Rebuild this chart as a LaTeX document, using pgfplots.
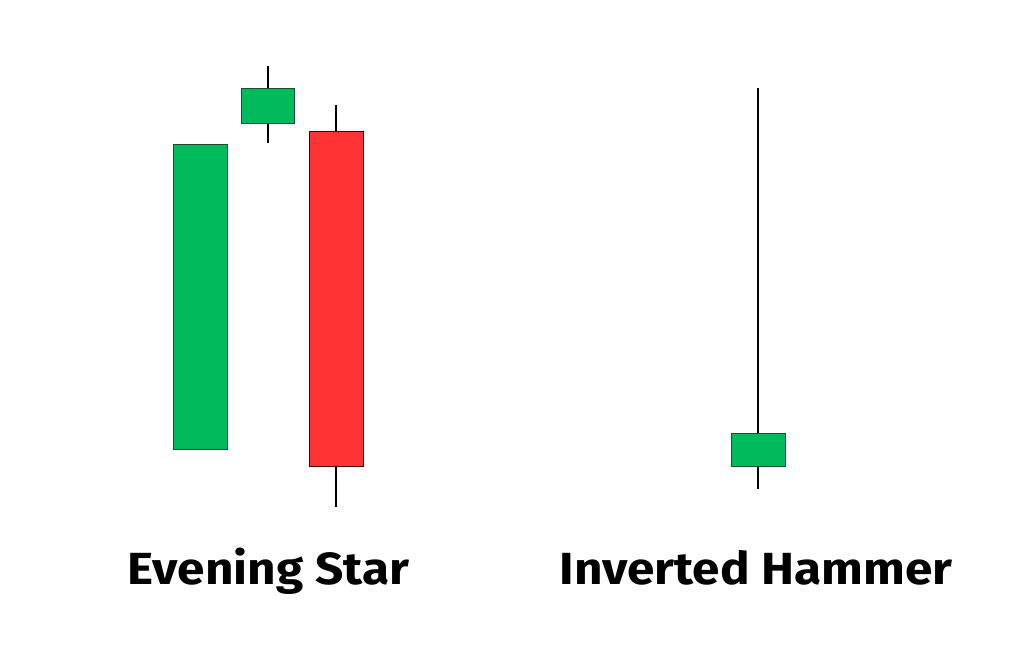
\documentclass[border=0pt]{standalone}
\usepackage{pgfplots}
\pgfplotsset{compat=1.18}
\usepackage{fontspec}
\setmainfont{Fira Sans}[FakeStretch=1.1]
\definecolor{cgreen}{HTML}{00BB5C}
\definecolor{cred}{HTML}{FF3333}
\definecolor{cedge}{HTML}{1E4D35}
\begin{document}
\begin{tikzpicture}
\begin{axis}[
  scale only axis, width=1024pt, height=662pt,
  xmin=0, xmax=1024, ymin=0, ymax=662,
  axis line style={draw=none}, ticks=none, clip=false,
]
% wicks (high-low)
\addplot[black, line width=2.3pt] coordinates {(267.9,596.0) (267.9,518.7)};
\addplot[black, line width=2.3pt] coordinates {(336.3,557.0) (336.3,155.3)};
\addplot[black, line width=2.3pt] coordinates {(758.3,574.3) (758.3,172.7)};
% bodies (open-close)
\addplot[fill=cgreen, draw=cedge, line width=0.9pt] coordinates {(173.5,212.7) (227.5,212.7) (227.5,518.0) (173.5,518.0)} -- cycle;
\addplot[fill=cgreen, draw=cedge, line width=0.9pt] coordinates {(241.0,538.7) (294.7,538.7) (294.7,574.0) (241.0,574.0)} -- cycle;
\addplot[fill=cred, draw=black!75!red, line width=0.9pt] coordinates {(309.0,196.0) (363.7,196.0) (363.7,530.3) (309.0,530.3)} -- cycle;
\addplot[fill=cgreen, draw=cedge, line width=0.9pt] coordinates {(731.0,195.7) (785.7,195.7) (785.7,228.3) (731.0,228.3)} -- cycle;
% labels
\node[anchor=base, font=\fontsize{45}{52}\selectfont\bfseries] at (axis cs:268.5,77.7) {Evening Star};
\node[anchor=base, font=\fontsize{45}{52}\selectfont\bfseries] at (axis cs:756,77.7) {Inverted Hammer};
\end{axis}
\end{tikzpicture}
\end{document}
